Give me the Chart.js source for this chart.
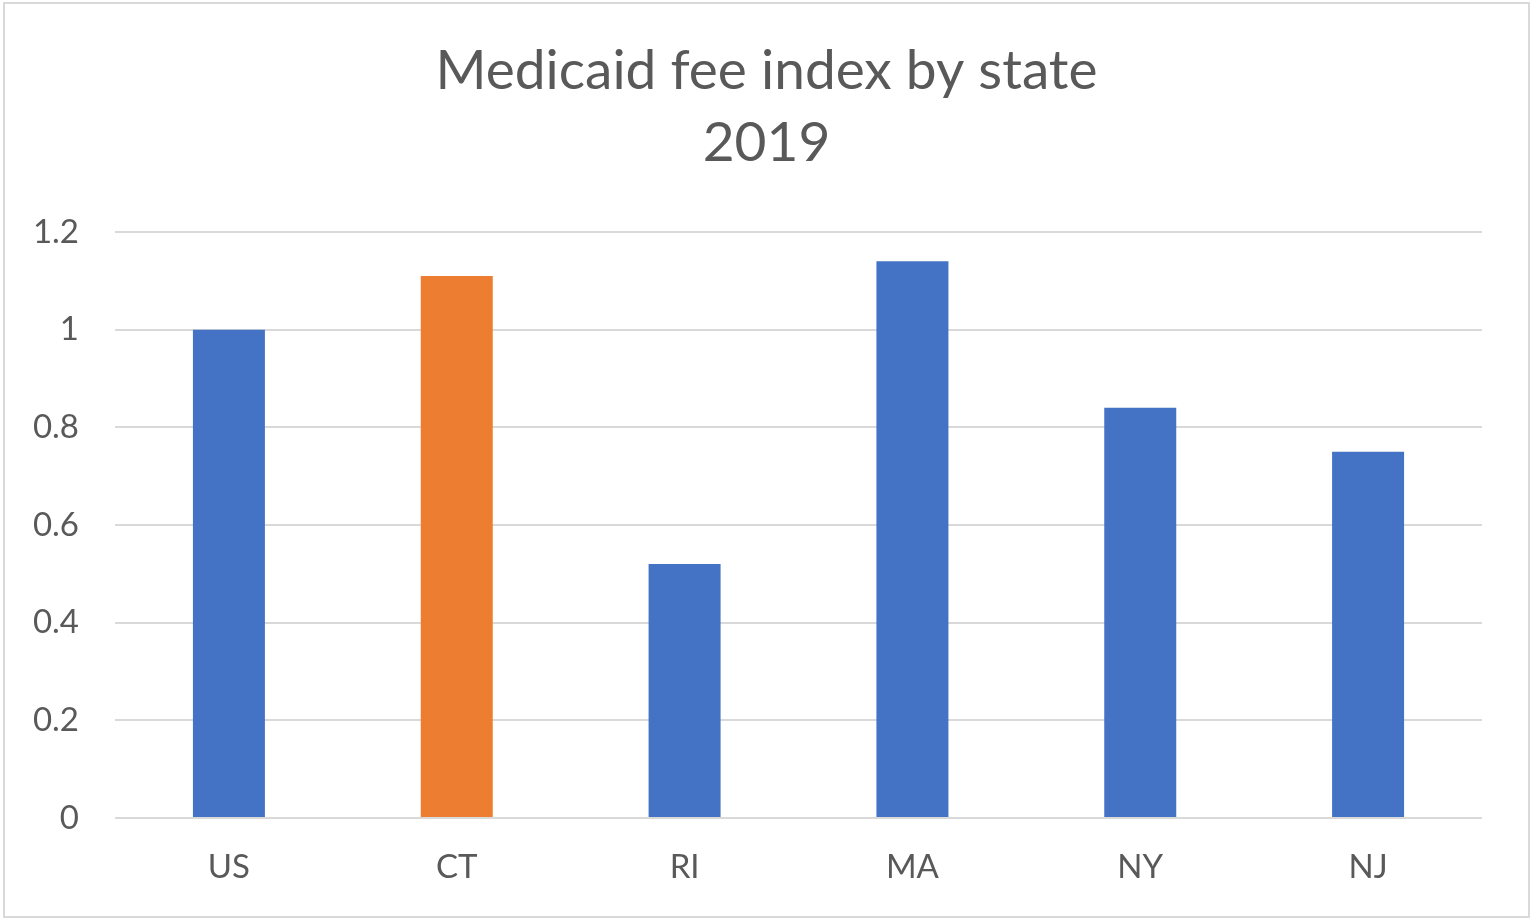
<!DOCTYPE html>
<html lang="en">
<head>
  <meta charset="UTF-8" />
  <title>Medicaid fee index by state</title>
  <script src="https://cdn.jsdelivr.net/npm/chart.js"></script>
  <style>
    body {
      margin: 0;
      background: #ffffff;
      font-family: Lato, sans-serif;
    }
    #chartBox {
      position: absolute;
      left: 3px;
      top: 2px;
      width: 1523px;
      height: 912px;
      border: 2px solid #d9d9d9;
    }
  </style>
</head>
<body>
  <div id="chartBox">
    <canvas id="feeChart"></canvas>
  </div>
  <script>
    const states = ["US", "CT", "RI", "MA", "NY", "NJ"];
    const feeIndex = [1.0, 1.11, 0.52, 1.14, 0.84, 0.75];
    const barColors = ["#4472C4", "#ED7D31", "#4472C4", "#4472C4", "#4472C4", "#4472C4"];
    const tickLabels = ["0", "0.2", "0.4", "0.6", "0.8", "1", "1.2"];

    const textColor = "#595959";
    const gridColor = "#d9d9d9";

    new Chart(document.getElementById("feeChart"), {
      type: "bar",
      data: {
        labels: states,
        datasets: [{
          data: feeIndex,
          backgroundColor: barColors,
          borderWidth: 0,
          barPercentage: 0.316,
          categoryPercentage: 1.0
        }]
      },
      options: {
        responsive: true,
        maintainAspectRatio: false,
        animation: false,
        layout: { padding: 0 },
        plugins: {
          legend: { display: false },
          tooltip: { enabled: false },
          title: {
            display: true,
            text: ["Medicaid fee index by state", "2019"],
            color: textColor,
            font: { family: "Lato", size: 55, weight: "normal", lineHeight: 1.3 },
            padding: { top: 32, bottom: 53 }
          }
        },
        scales: {
          x: {
            grid: { display: false },
            border: { display: false },
            ticks: {
              color: textColor,
              font: { family: "Lato", size: 33 },
              padding: 22
            },
            afterFit(scale) { scale.height = 98; }
          },
          y: {
            min: 0,
            max: 1.2,
            grid: { color: gridColor, lineWidth: 2, drawTicks: false },
            border: { display: false },
            ticks: {
              stepSize: 0.2,
              color: textColor,
              font: { family: "Lato", size: 33 },
              padding: 36,
              callback: (v, i) => tickLabels[i]
            },
            afterFit(scale) { scale.width = 110; }
          },
          // empty right axis: just reserves the margin on the right side
          yRight: {
            position: "right",
            min: 0,
            max: 1.2,
            grid: { display: false },
            border: { display: false },
            ticks: { display: false },
            afterFit(scale) { scale.width = 46; }
          }
        }
      }
    });
  </script>
</body>
</html>
